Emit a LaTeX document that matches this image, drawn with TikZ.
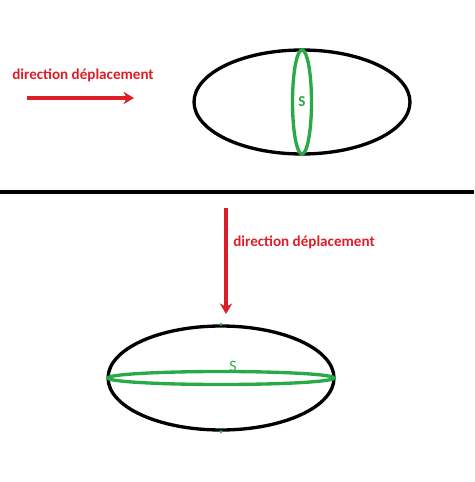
\documentclass[tikz,border=0pt]{standalone}
\usepackage{fontspec}
\setsansfont{Carlito}
\usetikzlibrary{arrows.meta,positioning,shapes.geometric}
\definecolor{dirred}{RGB}{220,30,40}
\definecolor{sgreen}{RGB}{40,170,70}

\begin{document}
\begin{tikzpicture}[x=0.02cm, y=-0.02cm, >={Stealth[length=6pt,width=7pt]},
    font=\sffamily\bfseries\fontsize{8.6}{10}\selectfont,
    body/.style={ellipse, draw, line width=1.9pt, inner sep=0pt},
    sect/.style={ellipse, draw=sgreen, line width=1.9pt, inner sep=0pt, text=sgreen},
    moveline/.style={->, draw=dirred, line width=1.9pt},
    dirlabel/.style={text=dirred}]
  \useasboundingbox (0,0) rectangle (474,482);
  % before: section across the motion
  \node (top) [body, minimum width=4.32cm, minimum height=2.08cm] at (302,102) {};
  \node (topsec) [sect, minimum width=0.38cm, minimum height=2.08cm] at (top.center) {S};
  \coordinate (a1) at (27,98);
  \coordinate (a2) at (134,98);
  \draw[moveline] (a1) -- (a2);
  \node (t1) [dirlabel] at (83,75) {direction déplacement};
  % divider
  \coordinate (l) at (0,192);
  \coordinate (r) at (474,192);
  \draw[line width=1.9pt] (l) -- (r);
  % after: section along the motion
  \coordinate (b1) at (226,208);
  \coordinate (b2) at (226,314);
  \draw[moveline] (b1) -- (b2);
  \node (t2) [dirlabel] at (304,242) {direction déplacement};
  \node (bot) [body, minimum width=4.52cm, minimum height=2.08cm] at (221,378) {};
  \node (botsec) [sect, minimum width=4.52cm, minimum height=0.26cm] at (bot.center) {};
  \node (s2) [text=sgreen, font=\sffamily\fontsize{9}{10}\selectfont] at (233,366) {S};
  \fill[sgreen] (bot.north) circle (1pt);
  \fill[sgreen] (bot.south) circle (1pt);
\end{tikzpicture}
\end{document}
